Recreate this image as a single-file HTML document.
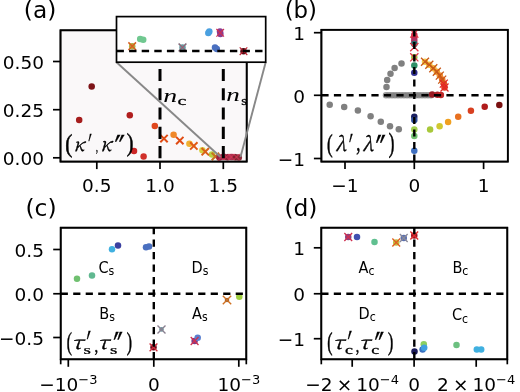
<!DOCTYPE html>
<html><head><meta charset="utf-8"><title>figure</title><style>
html,body{margin:0;padding:0;background:#fff;}
svg{display:block;}
</style></head><body>
<svg width="520" height="392" viewBox="0 0 520 392">
<defs><clipPath id="ca"><rect x="60.5" y="30.3" width="186.20" height="131.30"/></clipPath></defs>
<rect x="60.5" y="30.3" width="186.2" height="131.3" fill="#faf8f9" stroke="#000" stroke-width="1.7"/>
<g clip-path="url(#ca)">
<text transform="translate(163.34,101.85) scale(0.2786,0.1936)" font-size="100" font-family="'Liberation Serif', serif" font-style="italic" font-weight="normal" fill="#000">n</text>
<text stroke="#000" stroke-width="2" transform="translate(177.40,105.47) scale(0.2000,0.1333)" font-size="100" font-family="'Liberation Serif', serif" font-style="normal" font-weight="normal" fill="#000">c</text>
<text transform="translate(226.36,101.45) scale(0.2714,0.1787)" font-size="100" font-family="'Liberation Serif', serif" font-style="italic" font-weight="normal" fill="#000">n</text>
<text stroke="#000" stroke-width="2" transform="translate(241.16,105.32) scale(0.1484,0.1333)" font-size="100" font-family="'Liberation Serif', serif" font-style="normal" font-weight="normal" fill="#000">s</text>
<circle cx="79.2" cy="120.0" r="3.25" fill="#a51d1d" fill-opacity="1"/>
<circle cx="91.7" cy="86.6" r="3.25" fill="#7d1418" fill-opacity="1"/>
<circle cx="129.8" cy="115.2" r="3.25" fill="#b01e1e" fill-opacity="1"/>
<circle cx="154.8" cy="126" r="3.25" fill="#e0481e" fill-opacity="1"/>
<circle cx="134" cy="151" r="3.25" fill="#cc2626" fill-opacity="1"/>
<circle cx="143.6" cy="156.4" r="3.25" fill="#d0302a" fill-opacity="1"/>
<circle cx="173.6" cy="134.8" r="3.25" fill="#f0882a" fill-opacity="1"/>
<circle cx="189.4" cy="143.8" r="3.25" fill="#f0b030" fill-opacity="1"/>
<circle cx="202.4" cy="150.3" r="3.25" fill="#d8d040" fill-opacity="1"/>
<circle cx="212" cy="154.5" r="3.25" fill="#b8d040" fill-opacity="1"/>
<path d="M160.30,134.90L167.70,142.30M160.30,142.30L167.70,134.90" stroke="#e04c14" stroke-width="2.0" fill="none"/>
<path d="M176.10,136.90L183.50,144.30M176.10,144.30L183.50,136.90" stroke="#e04c14" stroke-width="2.0" fill="none"/>
<path d="M190.10,142.20L197.50,149.60M190.10,149.60L197.50,142.20" stroke="#e05a14" stroke-width="2.0" fill="none"/>
<path d="M201.60,148.00L209.00,155.40M201.60,155.40L209.00,148.00" stroke="#d86018" stroke-width="2.0" fill="none"/>
<path d="M211.70,152.80L219.10,160.20M211.70,160.20L219.10,152.80" stroke="#c87020" stroke-width="2.0" fill="none"/>
<circle cx="219.5" cy="157.4" r="3.25" fill="#a02040" fill-opacity="1"/>
<circle cx="223.5" cy="156.8" r="3.25" fill="#b03050" fill-opacity="1"/>
<circle cx="227.5" cy="157.3" r="3.25" fill="#902038" fill-opacity="1"/>
<circle cx="231.5" cy="157.0" r="3.25" fill="#b03050" fill-opacity="1"/>
<circle cx="235.5" cy="157.3" r="3.25" fill="#802030" fill-opacity="1"/>
<circle cx="238.8" cy="157.6" r="3.25" fill="#902838" fill-opacity="1"/>
<path d="M218.30,153.80L224.70,160.20M218.30,160.20L224.70,153.80" stroke="#d83858" stroke-width="1.0" fill="none"/>
<path d="M223.30,153.80L229.70,160.20M223.30,160.20L229.70,153.80" stroke="#d83858" stroke-width="1.0" fill="none"/>
<path d="M228.30,153.80L234.70,160.20M228.30,160.20L234.70,153.80" stroke="#d83858" stroke-width="1.0" fill="none"/>
<path d="M233.30,153.80L239.70,160.20M233.30,160.20L239.70,153.80" stroke="#d83858" stroke-width="1.0" fill="none"/>
<line x1="160" y1="30.3" x2="160" y2="161.6" stroke="#000" stroke-width="3" stroke-dasharray="12.1 7.2"/>
<line x1="223.3" y1="30.3" x2="223.3" y2="161.6" stroke="#000" stroke-width="3" stroke-dasharray="12.1 7.2"/>
</g>
<rect x="60.5" y="30.3" width="186.2" height="131.3" fill="none" stroke="#000" stroke-width="1.7"/>
<line x1="53.0" y1="157.8" x2="60.5" y2="157.8" stroke="#000" stroke-width="1.7"/>
<text x="44" y="165.20000000000002" font-size="18.5" text-anchor="end" font-family="'DejaVu Sans', 'Liberation Sans', sans-serif">0.00</text>
<line x1="53.0" y1="109.7" x2="60.5" y2="109.7" stroke="#000" stroke-width="1.7"/>
<text x="44" y="117.10000000000001" font-size="18.5" text-anchor="end" font-family="'DejaVu Sans', 'Liberation Sans', sans-serif">0.25</text>
<line x1="53.0" y1="61.5" x2="60.5" y2="61.5" stroke="#000" stroke-width="1.7"/>
<text x="44" y="68.9" font-size="18.5" text-anchor="end" font-family="'DejaVu Sans', 'Liberation Sans', sans-serif">0.50</text>
<line x1="96.8" y1="161.6" x2="96.8" y2="169.1" stroke="#000" stroke-width="1.7"/>
<text x="96.8" y="191.9" font-size="18.5" text-anchor="middle" font-family="'DejaVu Sans', 'Liberation Sans', sans-serif">0.5</text>
<line x1="160" y1="161.6" x2="160" y2="169.1" stroke="#000" stroke-width="1.7"/>
<text x="160" y="191.9" font-size="18.5" text-anchor="middle" font-family="'DejaVu Sans', 'Liberation Sans', sans-serif">1.0</text>
<line x1="223.3" y1="161.6" x2="223.3" y2="169.1" stroke="#000" stroke-width="1.7"/>
<text x="223.3" y="191.9" font-size="18.5" text-anchor="middle" font-family="'DejaVu Sans', 'Liberation Sans', sans-serif">1.5</text>
<line x1="116.5" y1="62.2" x2="220.5" y2="157" stroke="#888" stroke-width="1.9"/>
<line x1="265.7" y1="62.2" x2="240.5" y2="157" stroke="#888" stroke-width="1.9"/>
<rect x="116.5" y="16.6" width="149.2" height="45.6" fill="#fff" stroke="#000" stroke-width="1.7"/>
<circle cx="132.2" cy="46.2" r="3.25" fill="#b0b040" fill-opacity="1"/>
<path d="M128.40,42.40L136.00,50.00M128.40,50.00L136.00,42.40" stroke="#d86020" stroke-width="1.5" fill="none"/>
<circle cx="140.2" cy="38.9" r="3.25" fill="#70c890" fill-opacity="1"/>
<circle cx="143.2" cy="39.7" r="3.25" fill="#70c890" fill-opacity="1"/>
<circle cx="182.5" cy="47.4" r="3.25" fill="#6a9aa0" fill-opacity="1"/>
<path d="M178.70,43.60L186.30,51.20M178.70,51.20L186.30,43.60" stroke="#708890" stroke-width="1.6" fill="none"/>
<path d="M178.70,43.60L186.30,51.20M178.70,51.20L186.30,43.60" stroke="#c04060" stroke-width="0.7" fill="none"/>
<circle cx="208.3" cy="32.9" r="3.25" fill="#4aa0e0" fill-opacity="1"/>
<circle cx="209.3" cy="31.6" r="3.25" fill="#4aa0e0" fill-opacity="1"/>
<circle cx="220" cy="31.6" r="3.25" fill="#8a3a90" fill-opacity="1"/>
<circle cx="220.4" cy="34" r="3.25" fill="#8a3a90" fill-opacity="1"/>
<path d="M216.40,29.00L224.00,36.60M216.40,36.60L224.00,29.00" stroke="#d03050" stroke-width="1.1" fill="none"/>
<circle cx="215" cy="47.6" r="3.25" fill="#4a70c0" fill-opacity="1"/>
<circle cx="216.8" cy="49" r="3.25" fill="#4a70c0" fill-opacity="1"/>
<circle cx="243.5" cy="51.2" r="3.25" fill="#500a14" fill-opacity="1"/>
<path d="M239.70,47.40L247.30,55.00M239.70,55.00L247.30,47.40" stroke="#c02030" stroke-width="1.1" fill="none"/>
<line x1="116.5" y1="51" x2="265.7" y2="51" stroke="#000" stroke-width="2.6" stroke-dasharray="7.4 5.2"/>
<rect x="321.4" y="29.8" width="186.4" height="131.8" fill="#fff" stroke="#000" stroke-width="1.7"/>
<circle cx="386.5" cy="86.9" r="3.25" fill="#808080" fill-opacity="1"/>
<circle cx="387.2" cy="80" r="3.25" fill="#808080" fill-opacity="1"/>
<circle cx="390.5" cy="73.8" r="3.25" fill="#808080" fill-opacity="1"/>
<circle cx="394.6" cy="68" r="3.25" fill="#808080" fill-opacity="1"/>
<circle cx="401.5" cy="63.4" r="3.25" fill="#808080" fill-opacity="1"/>
<circle cx="329.7" cy="104.8" r="3.25" fill="#808080" fill-opacity="1"/>
<circle cx="344.2" cy="106.9" r="3.25" fill="#808080" fill-opacity="1"/>
<circle cx="357.9" cy="110.5" r="3.25" fill="#808080" fill-opacity="1"/>
<circle cx="370.6" cy="116.3" r="3.25" fill="#808080" fill-opacity="1"/>
<circle cx="380.8" cy="121.8" r="3.25" fill="#808080" fill-opacity="1"/>
<circle cx="390" cy="126.3" r="3.25" fill="#808080" fill-opacity="1"/>
<circle cx="398.8" cy="129.3" r="3.25" fill="#808080" fill-opacity="1"/>
<circle cx="386" cy="95.3" r="3.25" fill="#7a7a7a" fill-opacity="0.75"/>
<circle cx="389" cy="95.3" r="3.25" fill="#7a7a7a" fill-opacity="0.75"/>
<circle cx="392" cy="95.3" r="3.25" fill="#7a7a7a" fill-opacity="0.75"/>
<circle cx="395" cy="95.3" r="3.25" fill="#7a7a7a" fill-opacity="0.75"/>
<circle cx="398" cy="95.3" r="3.25" fill="#7a7a7a" fill-opacity="0.75"/>
<circle cx="401" cy="95.3" r="3.25" fill="#7a7a7a" fill-opacity="0.75"/>
<circle cx="404" cy="95.3" r="3.25" fill="#7a7a7a" fill-opacity="0.75"/>
<circle cx="407" cy="95.3" r="3.25" fill="#7a7a7a" fill-opacity="0.75"/>
<circle cx="410" cy="95.3" r="3.25" fill="#7a7a7a" fill-opacity="0.75"/>
<circle cx="413" cy="95.3" r="3.25" fill="#7a7a7a" fill-opacity="0.75"/>
<circle cx="416" cy="95.3" r="3.25" fill="#7a7a7a" fill-opacity="0.75"/>
<circle cx="419" cy="95.3" r="3.25" fill="#7a7a7a" fill-opacity="0.75"/>
<circle cx="422" cy="95.3" r="3.25" fill="#7a7a7a" fill-opacity="0.75"/>
<circle cx="425" cy="95.3" r="3.25" fill="#7a7a7a" fill-opacity="0.75"/>
<circle cx="428" cy="95.3" r="3.25" fill="#7a7a7a" fill-opacity="0.75"/>
<circle cx="431" cy="95.3" r="3.25" fill="#7a7a7a" fill-opacity="0.75"/>
<circle cx="432.2" cy="94.5" r="3.25" fill="#9a1a22" fill-opacity="1"/>
<circle cx="437.4" cy="94.7" r="3.25" fill="#b02028" fill-opacity="1"/>
<circle cx="440.9" cy="95" r="3.25" fill="#c02a2a" fill-opacity="1"/>
<circle cx="430.1" cy="129.4" r="3.25" fill="#a8c83a" fill-opacity="1"/>
<circle cx="439.6" cy="126.3" r="3.25" fill="#d0c830" fill-opacity="1"/>
<circle cx="448.1" cy="122" r="3.25" fill="#f0a020" fill-opacity="1"/>
<circle cx="458.2" cy="116.7" r="3.25" fill="#e87020" fill-opacity="1"/>
<circle cx="470.9" cy="110.8" r="3.25" fill="#d84020" fill-opacity="1"/>
<circle cx="484.7" cy="106.8" r="3.25" fill="#b01c1c" fill-opacity="1"/>
<circle cx="499.3" cy="105.1" r="3.25" fill="#7a1010" fill-opacity="1"/>
<circle cx="425" cy="61.8" r="3.25" fill="#f2c848" fill-opacity="1"/>
<circle cx="429.3" cy="64.8" r="3.25" fill="#f2bc40" fill-opacity="1"/>
<circle cx="433.3" cy="68.2" r="3.25" fill="#f2b038" fill-opacity="1"/>
<circle cx="436.8" cy="71.8" r="3.25" fill="#f2a030" fill-opacity="1"/>
<circle cx="439.8" cy="75.6" r="3.25" fill="#f29030" fill-opacity="1"/>
<circle cx="442.2" cy="79.6" r="3.25" fill="#f07a28" fill-opacity="1"/>
<circle cx="443.8" cy="83.6" r="3.25" fill="#ec5a24" fill-opacity="1"/>
<circle cx="444.5" cy="87.5" r="3.25" fill="#e83a20" fill-opacity="1"/>
<path d="M421.00,57.80L429.00,65.80M421.00,65.80L429.00,57.80" stroke="#c85818" stroke-width="1.3" fill="none"/>
<path d="M425.30,60.80L433.30,68.80M425.30,68.80L433.30,60.80" stroke="#c85818" stroke-width="1.3" fill="none"/>
<path d="M429.30,64.20L437.30,72.20M429.30,72.20L437.30,64.20" stroke="#c85818" stroke-width="1.3" fill="none"/>
<path d="M432.80,67.80L440.80,75.80M432.80,75.80L440.80,67.80" stroke="#c85818" stroke-width="1.3" fill="none"/>
<path d="M435.80,71.60L443.80,79.60M435.80,79.60L443.80,71.60" stroke="#c85818" stroke-width="1.3" fill="none"/>
<path d="M438.20,75.60L446.20,83.60M438.20,83.60L446.20,75.60" stroke="#c85818" stroke-width="1.3" fill="none"/>
<path d="M439.80,79.60L447.80,87.60M439.80,87.60L447.80,79.60" stroke="#e02828" stroke-width="1.3" fill="none"/>
<path d="M440.50,83.50L448.50,91.50M440.50,91.50L448.50,83.50" stroke="#e02828" stroke-width="1.3" fill="none"/>
<circle cx="414.3" cy="35" r="3.25" fill="#d02848" fill-opacity="1"/>
<circle cx="414.3" cy="37.5" r="3.25" fill="#d02848" fill-opacity="1"/>
<circle cx="414.3" cy="40.8" r="3.25" fill="#b03060" fill-opacity="1"/>
<circle cx="414.3" cy="44" r="3.25" fill="#2a6a6a" fill-opacity="1"/>
<circle cx="414.3" cy="57.3" r="3.25" fill="#a0c040" fill-opacity="1"/>
<circle cx="414.3" cy="65.6" r="3.25" fill="#309068" fill-opacity="1"/>
<circle cx="414.3" cy="72.8" r="3.25" fill="#303090" fill-opacity="1"/>
<circle cx="414.3" cy="116.7" r="3.25" fill="#1a2060" fill-opacity="1"/>
<circle cx="414.3" cy="120" r="3.25" fill="#3050a0" fill-opacity="1"/>
<circle cx="414.3" cy="129.4" r="3.25" fill="#a0d050" fill-opacity="1"/>
<circle cx="414.3" cy="136" r="3.25" fill="#70c070" fill-opacity="1"/>
<circle cx="414.3" cy="150.7" r="3.25" fill="#4070c0" fill-opacity="1"/>
<path d="M410.20,29.40L418.40,37.60M410.20,37.60L418.40,29.40" stroke="#e03848" stroke-width="1.3" fill="none"/>
<path d="M410.20,43.00L418.40,51.20M410.20,51.20L418.40,43.00" stroke="#e03848" stroke-width="1.3" fill="none"/>
<path d="M410.20,53.20L418.40,61.40M410.20,61.40L418.40,53.20" stroke="#e03848" stroke-width="1.3" fill="none"/>
<line x1="321.4" y1="95.3" x2="507.8" y2="95.3" stroke="#000" stroke-width="2.4" stroke-dasharray="7.2 5.3"/>
<line x1="414.3" y1="161.6" x2="414.3" y2="29.8" stroke="#000" stroke-width="2.4" stroke-dasharray="7.2 5.3"/>
<rect x="321.4" y="29.8" width="186.4" height="131.8" fill="none" stroke="#000" stroke-width="1.7"/>
<line x1="313.9" y1="32.7" x2="321.4" y2="32.7" stroke="#000" stroke-width="1.7"/>
<text x="305" y="40.1" font-size="18.5" text-anchor="end" font-family="'DejaVu Sans', 'Liberation Sans', sans-serif">1</text>
<line x1="313.9" y1="95.3" x2="321.4" y2="95.3" stroke="#000" stroke-width="1.7"/>
<text x="305" y="102.7" font-size="18.5" text-anchor="end" font-family="'DejaVu Sans', 'Liberation Sans', sans-serif">0</text>
<line x1="313.9" y1="158.5" x2="321.4" y2="158.5" stroke="#000" stroke-width="1.7"/>
<text x="305" y="165.9" font-size="18.5" text-anchor="end" font-family="'DejaVu Sans', 'Liberation Sans', sans-serif">−1</text>
<line x1="345" y1="161.6" x2="345" y2="169.1" stroke="#000" stroke-width="1.7"/>
<text x="345" y="191.9" font-size="18.5" text-anchor="middle" font-family="'DejaVu Sans', 'Liberation Sans', sans-serif">−1</text>
<line x1="414.3" y1="161.6" x2="414.3" y2="169.1" stroke="#000" stroke-width="1.7"/>
<text x="414.3" y="191.9" font-size="18.5" text-anchor="middle" font-family="'DejaVu Sans', 'Liberation Sans', sans-serif">0</text>
<line x1="483.6" y1="161.6" x2="483.6" y2="169.1" stroke="#000" stroke-width="1.7"/>
<text x="483.6" y="191.9" font-size="18.5" text-anchor="middle" font-family="'DejaVu Sans', 'Liberation Sans', sans-serif">1</text>
<rect x="60.7" y="227.7" width="185.6" height="131.6" fill="#fff" stroke="#000" stroke-width="1.7"/>
<text x="98.5" y="273" font-size="14.5" font-family="'DejaVu Sans', 'Liberation Sans', sans-serif" transform="translate(98.5 273) scale(1,1.1) translate(-98.5 -273)">C<tspan font-size="11" dy="2.1">s</tspan></text>
<text x="191.5" y="273" font-size="14.5" font-family="'DejaVu Sans', 'Liberation Sans', sans-serif" transform="translate(191.5 273) scale(1,1.1) translate(-191.5 -273)">D<tspan font-size="11" dy="2.1">s</tspan></text>
<text x="99.2" y="319" font-size="14.5" font-family="'DejaVu Sans', 'Liberation Sans', sans-serif" transform="translate(99.2 319) scale(1,1.1) translate(-99.2 -319)">B<tspan font-size="11" dy="2.1">s</tspan></text>
<text x="192" y="318.8" font-size="14.5" font-family="'DejaVu Sans', 'Liberation Sans', sans-serif" transform="translate(192 318.8) scale(1,1.1) translate(-192 -318.8)">A<tspan font-size="11" dy="2.1">s</tspan></text>
<circle cx="77" cy="278.75" r="3.25" fill="#70c070" fill-opacity="1"/>
<circle cx="92" cy="275.5" r="3.25" fill="#60b890" fill-opacity="1"/>
<circle cx="112" cy="249.25" r="3.25" fill="#40b0e0" fill-opacity="1"/>
<circle cx="118" cy="245.5" r="3.25" fill="#3a40a0" fill-opacity="1"/>
<circle cx="146" cy="247.2" r="3.25" fill="#4a70c0" fill-opacity="1"/>
<circle cx="149" cy="246.5" r="3.25" fill="#4a70c0" fill-opacity="1"/>
<circle cx="239.3" cy="296.8" r="3.25" fill="#a0d040" fill-opacity="1"/>
<circle cx="194.6" cy="341" r="3.25" fill="#7a3a8a" fill-opacity="1"/>
<circle cx="197.7" cy="337.7" r="3.25" fill="#5a80d0" fill-opacity="1"/>
<circle cx="153.5" cy="347.3" r="3.25" fill="#700a1a" fill-opacity="1"/>
<circle cx="227" cy="300" r="2.3" fill="#8a6040" fill-opacity="1"/>
<circle cx="161.5" cy="329.4" r="2.3" fill="#6a9aa0" fill-opacity="1"/>
<path d="M222.80,295.80L231.20,304.20M222.80,304.20L231.20,295.80" stroke="#d07020" stroke-width="1.4" fill="none"/>
<path d="M157.50,325.40L165.50,333.40M157.50,333.40L165.50,325.40" stroke="#8a8090" stroke-width="1.4" fill="none"/>
<path d="M190.70,337.10L198.50,344.90M190.70,344.90L198.50,337.10" stroke="#d03050" stroke-width="1.35" fill="none"/>
<path d="M149.60,343.40L157.40,351.20M149.60,351.20L157.40,343.40" stroke="#d03040" stroke-width="1.35" fill="none"/>
<line x1="60.7" y1="293.75" x2="246.3" y2="293.75" stroke="#000" stroke-width="2.4" stroke-dasharray="7.2 5.3"/>
<line x1="153.8" y1="359.3" x2="153.8" y2="227.7" stroke="#000" stroke-width="2.4" stroke-dasharray="7.2 5.3"/>
<rect x="60.7" y="227.7" width="185.6" height="131.6" fill="none" stroke="#000" stroke-width="1.7"/>
<line x1="53.2" y1="249.5" x2="60.7" y2="249.5" stroke="#000" stroke-width="1.7"/>
<text x="44" y="256.9" font-size="18.5" text-anchor="end" font-family="'DejaVu Sans', 'Liberation Sans', sans-serif">0.5</text>
<line x1="53.2" y1="293.75" x2="60.7" y2="293.75" stroke="#000" stroke-width="1.7"/>
<text x="44" y="301.15" font-size="18.5" text-anchor="end" font-family="'DejaVu Sans', 'Liberation Sans', sans-serif">0.0</text>
<line x1="53.2" y1="337.5" x2="60.7" y2="337.5" stroke="#000" stroke-width="1.7"/>
<text x="44" y="344.9" font-size="18.5" text-anchor="end" font-family="'DejaVu Sans', 'Liberation Sans', sans-serif">−0.5</text>
<line x1="68.3" y1="359.3" x2="68.3" y2="366.8" stroke="#000" stroke-width="1.7"/>
<line x1="153.8" y1="359.3" x2="153.8" y2="366.8" stroke="#000" stroke-width="1.7"/>
<line x1="238.8" y1="359.3" x2="238.8" y2="366.8" stroke="#000" stroke-width="1.7"/>
<line x1="60.7" y1="359.3" x2="60.7" y2="364.3" stroke="#000" stroke-width="1.7"/>
<line x1="246.3" y1="359.3" x2="246.3" y2="364.3" stroke="#000" stroke-width="1.7"/>
<text x="68.3" y="390.5" font-size="18.5" text-anchor="middle" font-family="'DejaVu Sans', 'Liberation Sans', sans-serif">−10<tspan font-size="13" dy="-6.8">−3</tspan></text>
<text x="153.8" y="390.5" font-size="18.5" text-anchor="middle" font-family="'DejaVu Sans', 'Liberation Sans', sans-serif">0</text>
<text x="238.8" y="390.5" font-size="18.5" text-anchor="middle" font-family="'DejaVu Sans', 'Liberation Sans', sans-serif">10<tspan font-size="13" dy="-6.8">−3</tspan></text>
<rect x="321.3" y="227.7" width="186.0" height="131.6" fill="#fff" stroke="#000" stroke-width="1.7"/>
<text x="358.5" y="273" font-size="14.5" font-family="'DejaVu Sans', 'Liberation Sans', sans-serif" transform="translate(358.5 273) scale(1,1.1) translate(-358.5 -273)">A<tspan font-size="11" dy="2.1">c</tspan></text>
<text x="452.4" y="273" font-size="14.5" font-family="'DejaVu Sans', 'Liberation Sans', sans-serif" transform="translate(452.4 273) scale(1,1.1) translate(-452.4 -273)">B<tspan font-size="11" dy="2.1">c</tspan></text>
<text x="358.5" y="318.8" font-size="14.5" font-family="'DejaVu Sans', 'Liberation Sans', sans-serif" transform="translate(358.5 318.8) scale(1,1.1) translate(-358.5 -318.8)">D<tspan font-size="11" dy="2.1">c</tspan></text>
<text x="452" y="320.2" font-size="14.5" font-family="'DejaVu Sans', 'Liberation Sans', sans-serif" transform="translate(452 320.2) scale(1,1.1) translate(-452 -320.2)">C<tspan font-size="11" dy="2.1">c</tspan></text>
<circle cx="348.25" cy="237" r="3.25" fill="#8a4080" fill-opacity="1"/>
<circle cx="357" cy="237" r="3.25" fill="#4050b0" fill-opacity="1"/>
<circle cx="374.5" cy="242" r="3.25" fill="#60c090" fill-opacity="1"/>
<circle cx="396.25" cy="242.5" r="3.25" fill="#c0c040" fill-opacity="1"/>
<circle cx="403.75" cy="238" r="3.25" fill="#5a70b0" fill-opacity="1"/>
<circle cx="414.25" cy="235.5" r="3.25" fill="#a01020" fill-opacity="1"/>
<circle cx="414.5" cy="351.6" r="3.25" fill="#1a1a5a" fill-opacity="1"/>
<circle cx="423.8" cy="344.2" r="3.25" fill="#8cd060" fill-opacity="1"/>
<circle cx="422.6" cy="349.5" r="3.25" fill="#3a70c0" fill-opacity="1"/>
<circle cx="424.2" cy="347.7" r="3.25" fill="#40a0e0" fill-opacity="1"/>
<circle cx="456.5" cy="344.9" r="3.25" fill="#6cc080" fill-opacity="1"/>
<circle cx="476.8" cy="349.5" r="3.25" fill="#40b0e0" fill-opacity="1"/>
<circle cx="481.2" cy="349.5" r="3.25" fill="#40b0e0" fill-opacity="1"/>
<path d="M344.35,233.10L352.15,240.90M344.35,240.90L352.15,233.10" stroke="#d03050" stroke-width="1.35" fill="none"/>
<path d="M392.35,238.60L400.15,246.40M392.35,246.40L400.15,238.60" stroke="#e06020" stroke-width="1.35" fill="none"/>
<path d="M399.85,234.10L407.65,241.90M399.85,241.90L407.65,234.10" stroke="#8a8a9a" stroke-width="1.35" fill="none"/>
<path d="M410.35,231.60L418.15,239.40M410.35,239.40L418.15,231.60" stroke="#e03030" stroke-width="1.35" fill="none"/>
<line x1="321.3" y1="293.75" x2="507.3" y2="293.75" stroke="#000" stroke-width="2.4" stroke-dasharray="7.2 5.3"/>
<line x1="414.3" y1="359.3" x2="414.3" y2="227.7" stroke="#000" stroke-width="2.4" stroke-dasharray="7.2 5.3"/>
<rect x="321.3" y="227.7" width="186.0" height="131.6" fill="none" stroke="#000" stroke-width="1.7"/>
<line x1="313.8" y1="247.8" x2="321.3" y2="247.8" stroke="#000" stroke-width="1.7"/>
<text x="305" y="255.20000000000002" font-size="18.5" text-anchor="end" font-family="'DejaVu Sans', 'Liberation Sans', sans-serif">1</text>
<line x1="313.8" y1="293.75" x2="321.3" y2="293.75" stroke="#000" stroke-width="1.7"/>
<text x="305" y="301.15" font-size="18.5" text-anchor="end" font-family="'DejaVu Sans', 'Liberation Sans', sans-serif">0</text>
<line x1="313.8" y1="338.7" x2="321.3" y2="338.7" stroke="#000" stroke-width="1.7"/>
<text x="305" y="346.09999999999997" font-size="18.5" text-anchor="end" font-family="'DejaVu Sans', 'Liberation Sans', sans-serif">−1</text>
<line x1="352.2" y1="359.3" x2="352.2" y2="366.8" stroke="#000" stroke-width="1.7"/>
<line x1="414.1" y1="359.3" x2="414.1" y2="366.8" stroke="#000" stroke-width="1.7"/>
<line x1="476.2" y1="359.3" x2="476.2" y2="366.8" stroke="#000" stroke-width="1.7"/>
<line x1="321.3" y1="359.3" x2="321.3" y2="364.3" stroke="#000" stroke-width="1.7"/>
<line x1="507.3" y1="359.3" x2="507.3" y2="364.3" stroke="#000" stroke-width="1.7"/>
<text x="352.2" y="390.5" font-size="18.5" text-anchor="middle" font-family="'DejaVu Sans', 'Liberation Sans', sans-serif" word-spacing="-1.8">−2 × 10<tspan font-size="13" dy="-6.8">−4</tspan></text>
<text x="414.1" y="390.5" font-size="18.5" text-anchor="middle" font-family="'DejaVu Sans', 'Liberation Sans', sans-serif">0</text>
<text x="476.2" y="390.5" font-size="18.5" text-anchor="middle" font-family="'DejaVu Sans', 'Liberation Sans', sans-serif" word-spacing="-1.8">2 × 10<tspan font-size="13" dy="-6.8">−4</tspan></text>
<text stroke="#000" stroke-width="2.2" transform="translate(65.20,151.81) scale(0.2115,0.2589)" font-size="100" font-family="'Liberation Serif', serif" font-style="normal" font-weight="normal" fill="#000">(</text>
<text stroke="#000" stroke-width="2" transform="translate(73.59,150.77) scale(0.1875,0.1815)" font-size="100" font-family="'Noto Serif CJK SC', serif" font-style="italic" font-weight="normal" fill="#000">κ</text>
<text stroke="#000" stroke-width="0.8" transform="translate(88.33,161.12) scale(0.1611,0.3667)" font-size="100" font-family="'DejaVu Sans', sans-serif" font-style="normal" font-weight="normal" fill="#000">′</text>
<text stroke="#000" stroke-width="2" transform="translate(95.73,151.60) scale(0.0933,0.1400)" font-size="100" font-family="'Liberation Serif', serif" font-style="normal" font-weight="normal" fill="#000">,</text>
<text stroke="#000" stroke-width="2" transform="translate(100.31,151.26) scale(0.1946,0.1889)" font-size="100" font-family="'Noto Serif CJK SC', serif" font-style="italic" font-weight="normal" fill="#000">κ</text>
<text stroke="#000" stroke-width="0.8" transform="translate(114.48,160.61) scale(0.2844,0.3556)" font-size="100" font-family="'DejaVu Sans', sans-serif" font-style="normal" font-weight="normal" fill="#000">″</text>
<text stroke="#000" stroke-width="2.2" transform="translate(126.75,151.39) scale(0.2000,0.2600)" font-size="100" font-family="'Liberation Serif', serif" font-style="normal" font-weight="normal" fill="#000">)</text>
<text stroke="#000" stroke-width="2.2" transform="translate(327.07,151.63) scale(0.1692,0.2533)" font-size="100" font-family="'Liberation Serif', serif" font-style="normal" font-weight="normal" fill="#000">(</text>
<text stroke="#000" stroke-width="2" transform="translate(335.40,151.45) scale(0.1842,0.2012)" font-size="100" font-family="'Noto Serif CJK SC', serif" font-style="italic" font-weight="normal" fill="#000">λ</text>
<text stroke="#000" stroke-width="0.8" transform="translate(348.99,165.38) scale(0.1778,0.4278)" font-size="100" font-family="'DejaVu Sans', sans-serif" font-style="normal" font-weight="normal" fill="#000">′</text>
<text stroke="#000" stroke-width="2" transform="translate(356.23,151.08) scale(0.1667,0.2480)" font-size="100" font-family="'Liberation Serif', serif" font-style="normal" font-weight="normal" fill="#000">,</text>
<text stroke="#000" stroke-width="2" transform="translate(362.39,151.35) scale(0.1860,0.1988)" font-size="100" font-family="'Noto Serif CJK SC', serif" font-style="italic" font-weight="normal" fill="#000">λ</text>
<text stroke="#000" stroke-width="0.8" transform="translate(375.49,165.78) scale(0.2781,0.4278)" font-size="100" font-family="'DejaVu Sans', sans-serif" font-style="normal" font-weight="normal" fill="#000">″</text>
<text stroke="#000" stroke-width="2.2" transform="translate(388.64,151.75) scale(0.1692,0.2667)" font-size="100" font-family="'Liberation Serif', serif" font-style="normal" font-weight="normal" fill="#000">)</text>
<text stroke="#000" stroke-width="2.2" transform="translate(66.83,349.52) scale(0.1538,0.2444)" font-size="100" font-family="'Liberation Serif', serif" font-style="normal" font-weight="normal" fill="#000">(</text>
<text stroke="#000" stroke-width="2" transform="translate(71.34,348.77) scale(0.2319,0.1849)" font-size="100" font-family="'Noto Serif CJK SC', serif" font-style="italic" font-weight="normal" fill="#000">τ</text>
<text stroke="#000" stroke-width="0.8" transform="translate(86.55,364.29) scale(0.2000,0.4389)" font-size="100" font-family="'DejaVu Sans', sans-serif" font-style="normal" font-weight="normal" fill="#000">′</text>
<text stroke="#000" stroke-width="2" transform="translate(83.39,354.43) scale(0.1903,0.1250)" font-size="100" font-family="'Liberation Serif', serif" font-style="normal" font-weight="normal" fill="#000">s</text>
<text stroke="#000" stroke-width="2" transform="translate(94.51,352.12) scale(0.1467,0.1920)" font-size="100" font-family="'Liberation Serif', serif" font-style="normal" font-weight="normal" fill="#000">,</text>
<text stroke="#000" stroke-width="2" transform="translate(97.29,348.87) scale(0.2277,0.1849)" font-size="100" font-family="'Noto Serif CJK SC', serif" font-style="italic" font-weight="normal" fill="#000">τ</text>
<text stroke="#000" stroke-width="0.8" transform="translate(113.23,361.85) scale(0.2594,0.4000)" font-size="100" font-family="'DejaVu Sans', sans-serif" font-style="normal" font-weight="normal" fill="#000">″</text>
<text stroke="#000" stroke-width="2" transform="translate(109.99,354.43) scale(0.1903,0.1250)" font-size="100" font-family="'Liberation Serif', serif" font-style="normal" font-weight="normal" fill="#000">s</text>
<text stroke="#000" stroke-width="2.2" transform="translate(126.78,349.88) scale(0.1577,0.2556)" font-size="100" font-family="'Liberation Serif', serif" font-style="normal" font-weight="normal" fill="#000">)</text>
<text stroke="#000" stroke-width="2.2" transform="translate(327.22,349.67) scale(0.1577,0.2467)" font-size="100" font-family="'Liberation Serif', serif" font-style="normal" font-weight="normal" fill="#000">(</text>
<text stroke="#000" stroke-width="2" transform="translate(332.62,348.77) scale(0.2255,0.1849)" font-size="100" font-family="'Noto Serif CJK SC', serif" font-style="italic" font-weight="normal" fill="#000">τ</text>
<text stroke="#000" stroke-width="0.8" transform="translate(347.44,364.29) scale(0.2056,0.4389)" font-size="100" font-family="'DejaVu Sans', sans-serif" font-style="normal" font-weight="normal" fill="#000">′</text>
<text stroke="#000" stroke-width="2" transform="translate(345.04,354.43) scale(0.1784,0.1250)" font-size="100" font-family="'Liberation Serif', serif" font-style="normal" font-weight="normal" fill="#000">c</text>
<text stroke="#000" stroke-width="2" transform="translate(355.84,351.72) scale(0.1400,0.1920)" font-size="100" font-family="'Liberation Serif', serif" font-style="normal" font-weight="normal" fill="#000">,</text>
<text stroke="#000" stroke-width="2" transform="translate(358.52,348.87) scale(0.2255,0.1849)" font-size="100" font-family="'Noto Serif CJK SC', serif" font-style="italic" font-weight="normal" fill="#000">τ</text>
<text stroke="#000" stroke-width="0.8" transform="translate(374.43,361.85) scale(0.2594,0.4000)" font-size="100" font-family="'DejaVu Sans', sans-serif" font-style="normal" font-weight="normal" fill="#000">″</text>
<text stroke="#000" stroke-width="2" transform="translate(371.14,354.43) scale(0.1784,0.1250)" font-size="100" font-family="'Liberation Serif', serif" font-style="normal" font-weight="normal" fill="#000">c</text>
<text stroke="#000" stroke-width="2.2" transform="translate(387.88,349.88) scale(0.1577,0.2556)" font-size="100" font-family="'Liberation Serif', serif" font-style="normal" font-weight="normal" fill="#000">)</text>
<text transform="translate(23.80,17.79) scale(0.2328,0.2315)" font-size="100" font-family="'DejaVu Sans', sans-serif" font-style="normal" font-weight="normal" fill="#000">(a)</text>
<text transform="translate(284.64,17.79) scale(0.2290,0.2315)" font-size="100" font-family="'DejaVu Sans', sans-serif" font-style="normal" font-weight="normal" fill="#000">(b)</text>
<text transform="translate(25.39,215.89) scale(0.2348,0.2315)" font-size="100" font-family="'DejaVu Sans', sans-serif" font-style="normal" font-weight="normal" fill="#000">(c)</text>
<text transform="translate(284.40,215.89) scale(0.2339,0.2315)" font-size="100" font-family="'DejaVu Sans', sans-serif" font-style="normal" font-weight="normal" fill="#000">(d)</text>
</svg>
</body></html>
